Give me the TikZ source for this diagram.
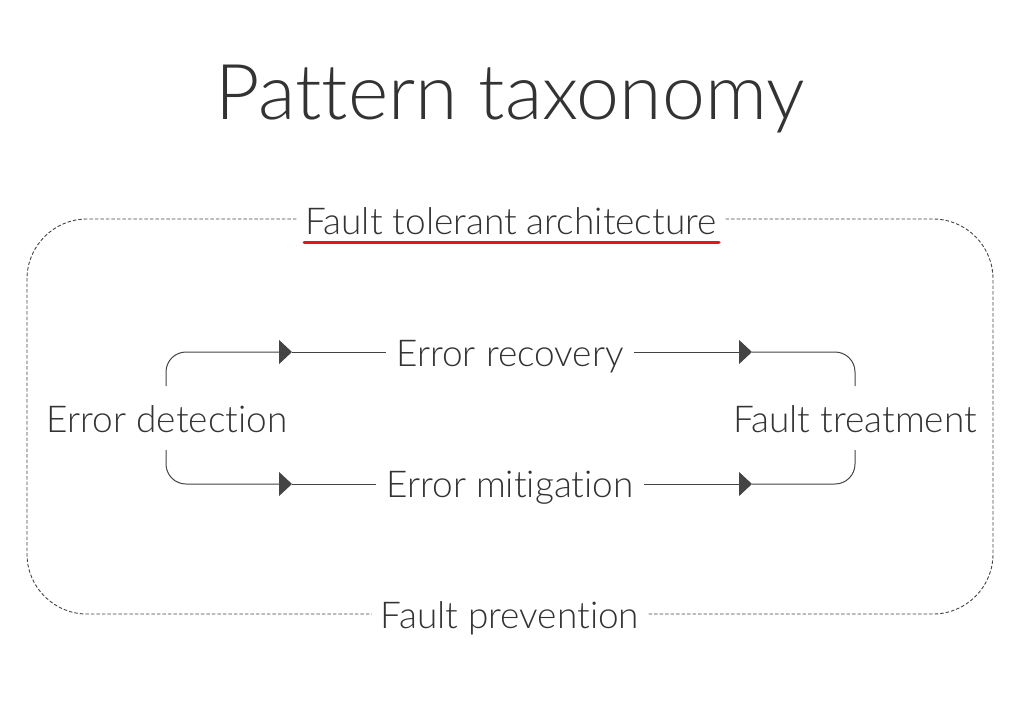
\documentclass[tikz,border=0pt]{standalone}
\usepackage{fontspec}
\setmainfont{Lato Light}[Ligatures={NoCommon}, RawFeature={-liga;-dlig}]
\usetikzlibrary{arrows.meta}
\definecolor{txt}{HTML}{333333}
\definecolor{ln}{HTML}{444444}
\definecolor{redline}{HTML}{E8141C}
\tikzset{
  lbl/.style={text=txt, inner sep=0pt, anchor=base, font=\fontsize{37}{40}\selectfont},
  conn/.style={draw=ln, line width=1pt, rounded corners=20pt},
  arr/.style={-{Triangle[length=13pt,width=24pt]}},
  frame/.style={draw=ln, dash pattern=on 3.5pt off 2pt, line width=0.9pt},
}
\begin{document}
\begin{tikzpicture}[x=1pt,y=-1pt]
\useasboundingbox (0,0) rectangle (1023,723);
\node[text=txt, inner sep=0pt, anchor=base, font=\fontsize{77}{84}\selectfont] (title) at (510,119) {Pattern taxonomy};
% frame
\node[lbl, inner xsep=9pt] (fta) at (511,234) {Fault tolerant architecture};
\node[lbl, inner xsep=9pt] (fp) at (510,628) {Fault prevention};
\coordinate (tl) at (27,219);
\coordinate (bl) at (27,614);
\draw[frame, rounded corners=60pt] (fta.west |- tl) -- (27,219) -- (27,614) -- (fp.west |- bl);
\draw[frame, rounded corners=60pt] (fta.east |- tl) -- (993,219) -- (993,614) -- (fp.east |- bl);
\draw[redline, line width=3pt, line cap=round] (304,242) -- (719,242);
% nodes
\node[lbl] (det) at (167,432) {Error detection};
\node[lbl] (treat) at (855,432) {Fault treatment};
\node[lbl] (rec) at (510,366) {Error recovery};
\node[lbl] (mit) at (510,497) {Error mitigation};
\coordinate (a1) at (292,352);
\coordinate (a2) at (292,484);
\coordinate (a3) at (752,352);
\coordinate (a4) at (752,484);
\coordinate (dt) at (166,386);
\coordinate (db) at (166,450);
\coordinate (tt) at (855,386);
\coordinate (tb) at (855,450);
\draw[conn, arr] (dt) |- (a1);
\draw[conn] (a1) -- ([xshift=-10pt]rec.west |- a1);
\draw[conn, arr] ([xshift=10pt]rec.east |- a3) -- (a3);
\draw[conn] (a3) -| (tt);
\draw[conn, arr] (db) |- (a2);
\draw[conn] (a2) -- ([xshift=-10pt]mit.west |- a2);
\draw[conn, arr] ([xshift=10pt]mit.east |- a4) -- (a4);
\draw[conn] (a4) -| (tb);
\end{tikzpicture}
\end{document}
